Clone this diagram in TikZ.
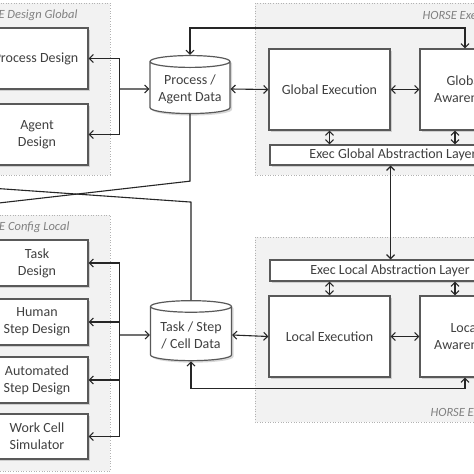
\documentclass[tikz,border=0pt]{standalone}
\usepackage{fontspec}
\setmainfont{Carlito}
\usetikzlibrary{arrows.meta,shapes.geometric,shadows}

\begin{document}
\begin{tikzpicture}[x=1pt, y=-1pt, line width=1.1pt, draw=black!85,
	>={Straight Barb[length=4pt,width=8pt]},
	box/.style={rectangle, draw=black!65, fill=white, line width=1.2pt, text=black!75, align=center,
		font=\fontsize{14}{17}\selectfont, drop shadow={opacity=0.3, shadow xshift=2pt, shadow yshift=-2pt}},
	store/.style={box, cylinder, shape border rotate=90, aspect=0.17},
	group/.style={draw=black!30, dotted, fill=black!5, line width=0.6pt},
	grouplabel/.style={font=\itshape\fontsize{12.5}{14}\selectfont, text=black!50, inner sep=0pt}]
	\fill[white] (0,0) rectangle (474,474);
	\useasboundingbox (0,0) rectangle (474,474);
	\clip (0,0) rectangle (474,474);
	% groups
	\draw[group] (-30,  3) rectangle (110, 175);
	\draw[group] (-30,215) rectangle (110, 471);
	\draw[group] (255,  3) rectangle (520, 175);
	\draw[group] (255,237) rectangle (520, 422);
	\node (gDG) at ( 78, 15)	[grouplabel, anchor=east]	{HORSE Design Global};
	\node (gCL) at ( 70,227)	[grouplabel, anchor=east]	{HORSE Config Local};
	\node (gEG) at (422, 15)	[grouplabel, anchor=west]	{HORSE Execution Global};
	\node (gEL) at (430,412)	[grouplabel, anchor=west]	{HORSE Execution Local};
	% design tools
	\node (PD) at ( 36, 58.5)	[box, minimum width=104, minimum height=61]	{Process Design};
	\node (AD) at ( 37,134.5)	[box, minimum width=102, minimum height=61]	{Agent\\Design};
	\node (TD) at ( 37,263)	[box, minimum width=102, minimum height=46]	{Task\\Design};
	\node (HS) at ( 37,322)	[box, minimum width=102, minimum height=46]	{Human\\Step Design};
	\node (AS) at ( 37,380)	[box, minimum width=102, minimum height=46]	{Automated\\Step Design};
	\node (WC) at ( 37,436.5)	[box, minimum width=102, minimum height=45]	{Work Cell\\Simulator};
	% data stores
	\node (PA) at (190, 89)	[store, minimum width=80, minimum height=58]	{Process /\\Agent Data};
	\node (TS) at (191,335)	[store, minimum width=81, minimum height=60]	{Task / Step\\/ Cell Data};
	% execution
	\node (GE) at (329.5, 89.5)	[box, minimum width=121, minimum height=81]	{Global Execution};
	\node (GA) at (465, 89.5)	[box, minimum width=90, minimum height=81]	{Global\\Awareness};
	\node (EG) at (393,155)	[box, minimum width=246, minimum height=20, inner sep=0pt]	{Exec Global Abstraction Layer};
	\node (EL) at (390,270.5)	[box, minimum width=240, minimum height=21, inner sep=0pt]	{Exec Local Abstraction Layer};
	\node (LE) at (329.5,336.5)	[box, minimum width=121, minimum height=81]	{Local Execution};
	\node (LA) at (465,336.5)	[box, minimum width=90, minimum height=81]	{Local\\Awareness};
	\coordinate (jG) at (119, 89);
	\coordinate (jL) at (119,335);
	\coordinate (xA) at (-10,204);
	\coordinate (xB) at (-10,188);
	% connectors
	\draw[<->] (PD.east) -- ++(31,0) |- (AD.east);
	\draw[->] (jG) -- (PA.west);
	\draw[<->] (TD.east) -- ++(31,0) |- (WC.east);
	\draw[<-] (HS.east) -- ++(31,0);
	\draw[<-] (AS.east) -- ++(31,0);
	\draw[->] (jL) -- (TS.west);
	\draw[<->] (PA.north) -- ++(0,-27) -| (GA.north);
	\draw[<->] (PA.east) -- (GE.west);
	\draw[<->] (GE.east) -- (GA.west);
	\draw[<->] (GE.south) -- (GE.south |- EG.north);
	\draw[<->] ([xshift=-10pt]GA.south) -- ([xshift=-10pt]GA.south |- EG.north);
	\draw[<->] (EG.south -| GE.east) -- (EL.north -| GE.east);
	\draw[<->] (LE.north) -- (LE.north |- EL.south);
	\draw[<->] ([xshift=-10pt]LA.north) -- ([xshift=-10pt]LA.north |- EL.south);
	\draw[<->] (TS.east) -- (LE.west);
	\draw[<->] (LE.east) -- (LA.west);
	\draw[<->] (TS.south) -- ++(0,27) -| (LA.south);
	\draw (PA.south) -- ++(0,67) -- (xA);
	\draw (TS.north) -- ++(0,-98) -- (xB);
\end{tikzpicture}
\end{document}
